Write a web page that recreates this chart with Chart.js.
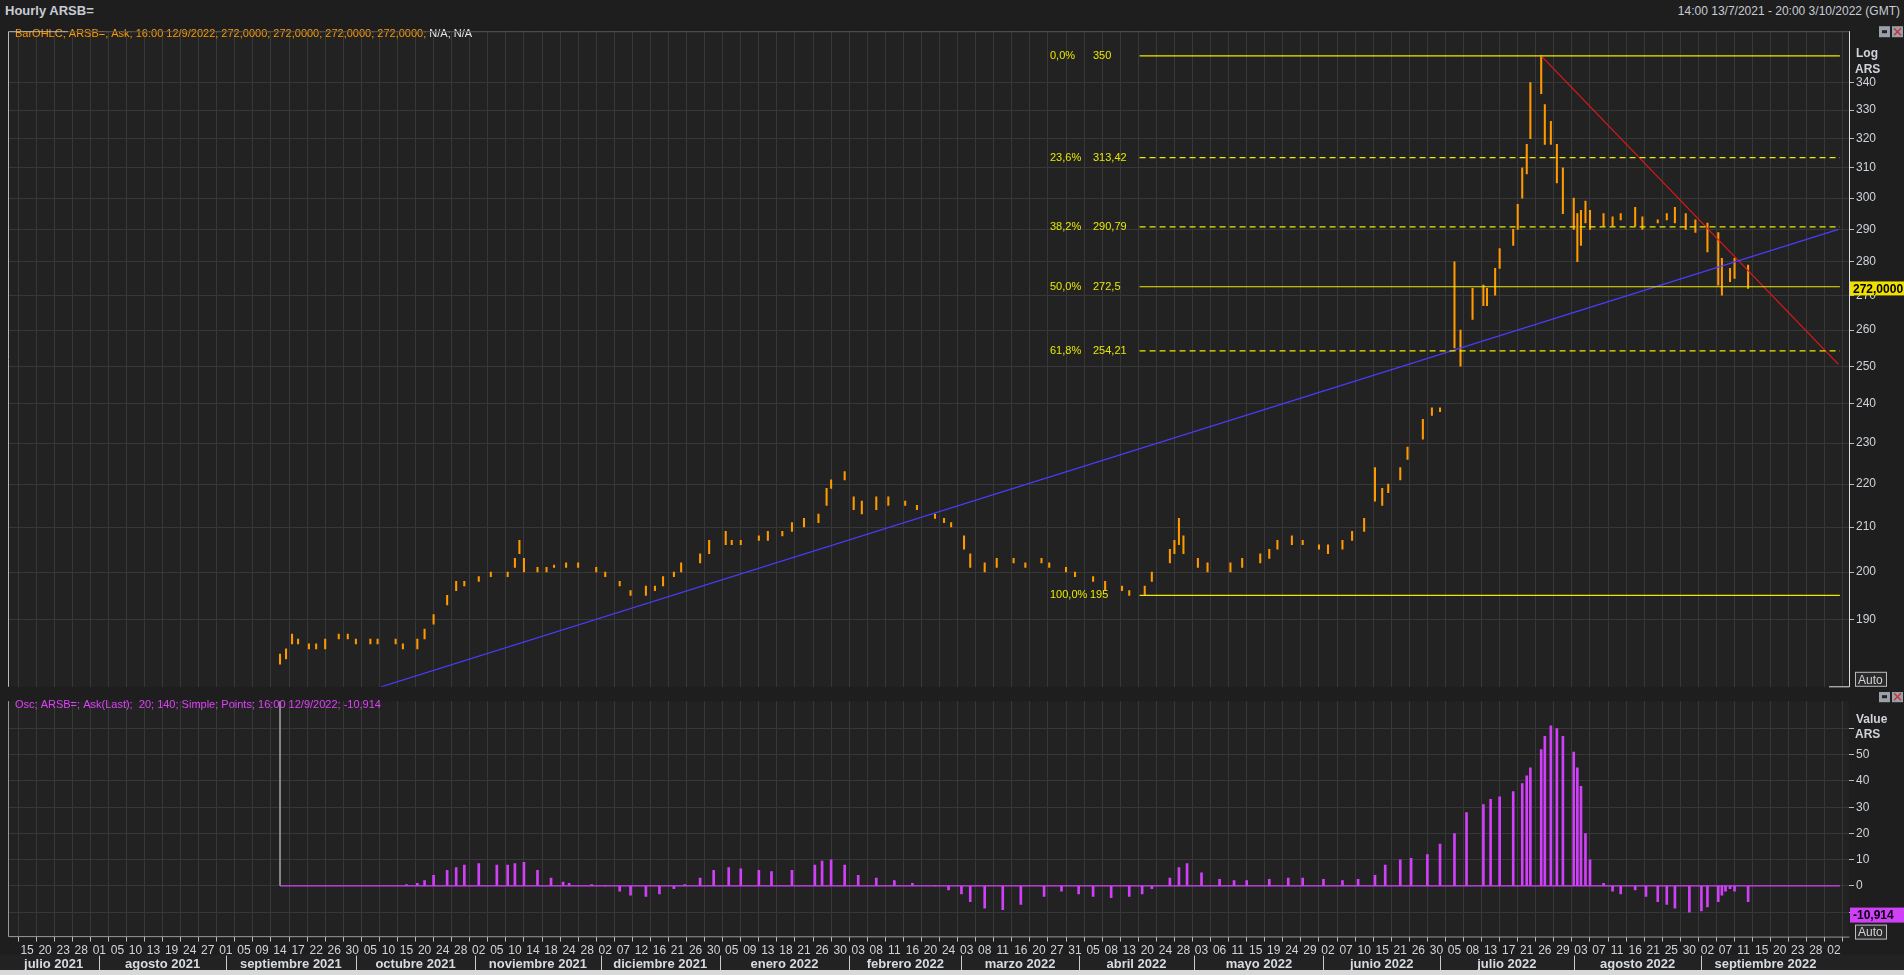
<!DOCTYPE html>
<html><head><meta charset="utf-8">
<script src="https://cdn.jsdelivr.net/npm/chart.js@4.4.0/dist/chart.umd.min.js"></script>
<style>
html,body{margin:0;padding:0;background:#1e1e1e;width:1904px;height:975px;overflow:hidden;font-family:"Liberation Sans",Arial,sans-serif;}
#c1{position:absolute;left:0;top:22px;}
#c2{position:absolute;left:0;top:692px;}
.t{position:absolute;color:#c8ccd4;font-size:13px;}
#strip{position:absolute;left:0;top:970px;width:1904px;height:5px;background:#d8d8d8;}
</style></head><body>
<div class="t" style="left:5px;top:3px;font-weight:bold;">Hourly ARSB=</div>
<div class="t" style="right:4px;top:4px;font-size:12px;">14:00 13/7/2021 - 20:00 3/10/2022 (GMT)</div>
<canvas id="c1" width="1904" height="674"></canvas>
<canvas id="c2" width="1904" height="283"></canvas>
<div id="strip"></div>
<script>
// ---------- data ----------
const priceDates = ["2021-09-14","2021-09-15","2021-09-16","2021-09-17","2021-09-20","2021-09-22","2021-09-24","2021-09-27","2021-09-29","2021-10-01","2021-10-05","2021-10-07","2021-10-12","2021-10-14","2021-10-18","2021-10-20","2021-10-22","2021-10-25","2021-10-27","2021-10-29","2021-11-02","2021-11-04","2021-11-08","2021-11-10","2021-11-11","2021-11-12","2021-11-15","2021-11-17","2021-11-19","2021-11-23","2021-11-26","2021-11-30","2021-12-02","2021-12-06","2021-12-09","2021-12-13","2021-12-15","2021-12-17","2021-12-20","2021-12-22","2021-12-27","2021-12-29","2022-01-03","2022-01-05","2022-01-07","2022-01-11","2022-01-13","2022-01-17","2022-01-19","2022-01-21","2022-01-25","2022-01-27","2022-01-28","2022-01-31","2022-02-02","2022-02-04","2022-02-08","2022-02-10","2022-02-14","2022-02-17","2022-02-21","2022-02-23","2022-02-25","2022-03-02","2022-03-04","2022-03-08","2022-03-10","2022-03-14","2022-03-17","2022-03-21","2022-03-24","2022-03-29","2022-03-31","2022-04-05","2022-04-07","2022-04-11","2022-04-13","2022-04-19","2022-04-21","2022-04-25","2022-04-26","2022-04-27","2022-04-28","2022-05-02","2022-05-04","2022-05-09","2022-05-12","2022-05-16","2022-05-18","2022-05-20","2022-05-24","2022-05-27","2022-05-31","2022-06-02","2022-06-06","2022-06-08","2022-06-10","2022-06-13","2022-06-15","2022-06-17","2022-06-21","2022-06-23","2022-06-27","2022-06-29","2022-07-01","2022-07-05","2022-07-06","2022-07-08","2022-07-11","2022-07-12","2022-07-14","2022-07-15","2022-07-18","2022-07-19","2022-07-20","2022-07-21","2022-07-22","2022-07-25","2022-07-26","2022-07-27","2022-07-28","2022-07-29","2022-08-01","2022-08-02","2022-08-03","2022-08-04","2022-08-05","2022-08-08","2022-08-10","2022-08-12","2022-08-16","2022-08-18","2022-08-22","2022-08-24","2022-08-26","2022-08-29","2022-08-31","2022-09-02","2022-09-05","2022-09-06","2022-09-08","2022-09-09","2022-09-12"];
const priceLow  = [181,182,185,185,184,184,184,186,186,185,185,185,185,184,184,186,189,193,196,197,198,199,199,201,204,200,200,200,201,201,201,200,199,197,195,195,196,197,199,200,202,204,206,206,206,207,207,208,209,210,211,215,219,221,214,213,214,215,215,214,212,211,210,205,201,200,201,202,201,202,201,200,199,198,196,196,195,195,198,202,204,206,204,201,200,200,201,202,203,205,206,206,205,204,205,207,209,216,215,218,221,226,231,237,238,255,250,263,267,267,270,278,285,290,300,308,320,336,318,318,305,295,290,280,285,292,290,291,291,293,291,290,292,293,292,290,289,283,273,270,274,275,272];
const priceHigh = [183,184,187,186,185,185,186,187,187,186,186,186,186,185,186,188,191,195,198,198,199,200,200,203,207,203,201,201,201.5,202,202,201,200,198,196,197,197,199,200,202,204,207,209,207,207,208,209,209,211,212,213,219,221,223,217,216,217,217,216,215,213,212,211,208,204,202,203,203,202,203,202,201,200,199,198,197,196,197,200,205,207,212,208,203,202,202,203,204,205,207,208,207,206,206,207,209,212,224,219,220,224,229,236,239,239,280,260,272,273,272,278,284,290,298,310,318,340,350,332,326,318,310,300,295,296,299,296,295,294,295,297,294,293,295,297,295,293,292,289,281,278,281,279,276];

const oscDates = ["2021-10-15","2021-10-18","2021-10-20","2021-10-22","2021-10-25","2021-10-27","2021-10-29","2021-11-02","2021-11-05","2021-11-08","2021-11-10","2021-11-12","2021-11-15","2021-11-18","2021-11-22","2021-11-24","2021-11-29","2021-12-02","2021-12-06","2021-12-09","2021-12-13","2021-12-16","2021-12-20","2021-12-23","2021-12-27","2021-12-30","2022-01-04","2022-01-07","2022-01-11","2022-01-14","2022-01-19","2022-01-24","2022-01-26","2022-01-28","2022-01-31","2022-02-03","2022-02-08","2022-02-11","2022-02-16","2022-02-21","2022-02-24","2022-03-01","2022-03-04","2022-03-08","2022-03-11","2022-03-16","2022-03-22","2022-03-28","2022-04-01","2022-04-05","2022-04-08","2022-04-13","2022-04-18","2022-04-21","2022-04-25","2022-04-27","2022-04-29","2022-05-03","2022-05-06","2022-05-10","2022-05-13","2022-05-18","2022-05-23","2022-05-27","2022-06-01","2022-06-06","2022-06-09","2022-06-13","2022-06-16","2022-06-21","2022-06-24","2022-06-28","2022-07-01","2022-07-05","2022-07-07","2022-07-11","2022-07-13","2022-07-15","2022-07-18","2022-07-20","2022-07-21","2022-07-22","2022-07-25","2022-07-26","2022-07-27","2022-07-28","2022-07-29","2022-08-01","2022-08-02","2022-08-03","2022-08-04","2022-08-05","2022-08-08","2022-08-10","2022-08-12","2022-08-16","2022-08-19","2022-08-22","2022-08-24","2022-08-26","2022-08-30","2022-09-01","2022-09-02","2022-09-05","2022-09-06","2022-09-07","2022-09-08","2022-09-09","2022-09-12"];
const oscValues = [0.5,1,2,4,6,7,8,8.5,8,8,8.5,9,6,3,1.5,1,0.5,0,-2,-3.5,-4,-3,-1,0.5,3,6,7,6.5,6,5.5,6,8,9.5,10,8,4,3,2,1,0,-1.5,-3,-6,-8.5,-9,-7,-4,-2,-3,-4,-4.5,-4,-3,-1,3,7,8.5,5,2.5,2,2,2.5,3,3,2.5,2,2.5,4,8,10,10.5,12,16,20,28,31,33,34,36,39,42,45,52,57,61,60,57,51,45,38,20,10,1,-2,-3,-1.5,-4,-6,-7,-8.5,-10,-9.5,-8,-6,-3.5,-2,-1,-2,-6,-9,-13,-13.5,-13,-11];

const tickMonths = ["2021-07","2021-08","2021-09","2021-10","2021-11","2021-12","2022-01","2022-02","2022-03","2022-04","2022-05","2022-06","2022-07","2022-08","2022-09","2022-10"];
const tickDays = [[15,20,23,28],[1,5,10,13,19,24,27],[1,5,9,14,17,22,26,30],[5,10,15,20,24,28],[2,5,10,14,18,24,28],[2,7,12,16,21,26,30],[5,9,13,18,21,26,30],[3,8,11,16,20,24],[3,8,11,16,20,27,31],[5,8,13,20,24,28],[3,6,11,15,19,24,29],[2,7,10,15,21,26,30],[5,8,13,17,21,26,29],[3,7,11,16,21,25,30],[2,7,11,15,20,23,28],[2]];
const monthNames = ["enero","febrero","marzo","abril","mayo","junio","julio","agosto","septiembre","octubre","noviembre","diciembre"];
const priceTicks = [190,200,210,220,230,240,250,260,270,280,290,300,310,320,330,340];
const oscTicks = [0,10,20,30,40,50];
const fibPct = ["0,0%","23,6%","38,2%","50,0%","61,8%","100,0%"];
const fibVal = [350,313.42,290.79,272.5,254.21,195];
const fibLabel = ["350","313,42","290,79","272,5","254,21","195"];
const fibDashed = [false,true,true,false,true,false];
const fibStart = "2022-04-17";
const blueLine = [["2021-10-08",176.6],["2022-10-03",290]];
const redLine = [["2022-07-25",350],["2022-10-03",250.5]];
const spikeDate = "2021-09-14";

// ---------- time axis (compressed, one unit per date tick) ----------
const day = s => Date.parse(s+"T00:00:00Z")/864e5;
const tickDayNums = [];
tickMonths.forEach((m,i)=>tickDays[i].forEach(d=>tickDayNums.push(day(m+"-"+String(d).padStart(2,"0")))));
function X(s){
  const v = typeof s==='number'?s:day(s), t=tickDayNums, n=t.length;
  if(v<=t[0]) return (v-t[0])/(t[1]-t[0]);
  if(v>=t[n-1]) return n-1+(v-t[n-1])/(t[n-1]-t[n-2]);
  let i=0; while(t[i+1]<v) i++;
  return i+(v-t[i])/(t[i+1]-t[i]);
}
const xMin=-0.55, xMax=tickDayNums.length-1+0.33;
const tickLbl = tickDayNums.map(v=>String(new Date(v*864e5).getUTCDate()).padStart(2,"0"));
const FONT = '"Liberation Sans", Arial, sans-serif';
const GRID = '#383838', TXT = '#d0d4da';
Chart.defaults.font.family = FONT;
Chart.defaults.animation = false;

function xScale(showLabels){
  const s = {type:'linear',min:xMin,max:xMax,
    afterBuildTicks:a=>{a.ticks=tickDayNums.map((v,i)=>({value:i}));},
    grid:{color:GRID,tickLength:showLabels?5:0,tickColor:'#bbb',drawTicks:showLabels},
    border:{display:false},
    ticks:{display:showLabels,autoSkip:false,maxRotation:0,color:TXT,font:{size:12},padding:2,callback:(v,i)=>tickLbl[i]}};
  if(!showLabels) s.afterFit = a=>{a.height=0;};
  return s;
}
function yFit(a){a.width=55;}

const bgPlugin = {id:'bg',beforeDraw(c){const {ctx,chartArea:a}=c;ctx.save();ctx.fillStyle='#222222';ctx.fillRect(a.left,a.top,a.right-a.left,a.bottom-a.top);ctx.restore();}};

function box(ctx,x,y,w,h,fill,stroke,text,col,bold){
  ctx.save();ctx.fillStyle=fill;ctx.fillRect(x,y,w,h);
  if(stroke){ctx.strokeStyle=stroke;ctx.lineWidth=1;ctx.strokeRect(x+.5,y+.5,w-1,h-1);}
  ctx.fillStyle=col;ctx.font=(bold?'bold ':'')+'12px '+FONT;ctx.textBaseline='middle';ctx.fillText(text,x+3,y+h/2+1);ctx.restore();
}
function icons(ctx,x,y){
  ctx.save();ctx.fillStyle='#9aa0aa';ctx.fillRect(x,y,11,11);ctx.fillRect(x+13,y,11,11);
  ctx.fillStyle='#222';ctx.fillRect(x+3,y+4,5,3);
  ctx.strokeStyle='#c33';ctx.lineWidth=1.5;ctx.beginPath();ctx.moveTo(x+15,y+2);ctx.lineTo(x+22,y+9);ctx.moveTo(x+22,y+2);ctx.lineTo(x+15,y+9);ctx.stroke();ctx.restore();
}

// ---------- price chart ----------
const priceBars = priceDates.map((d,i)=>({x:X(d),y:[priceLow[i],priceHigh[i]]}));
const fibSets = fibVal.map((v,i)=>({type:'line',data:[{x:X(fibStart),y:v},{x:xMax,y:v}],borderColor:'#f0e800',borderWidth:1.2,borderDash:fibDashed[i]?[6,4]:[],pointRadius:0,order:1}));
const overlay = {id:'ov1',afterDraw(c){
  const {ctx,chartArea:a,scales:{x,y}}=c;
  ctx.save();
  ctx.font='11px '+FONT;ctx.textBaseline='middle';ctx.fillStyle='#e8e800';
  fibVal.forEach((v,i)=>{const yy=y.getPixelForValue(v);ctx.fillText(fibPct[i],1050,yy);ctx.fillText(fibLabel[i],i==5?1090:1093,yy);});
  ctx.font='11px '+FONT;ctx.fillStyle='#ff9900';
  const s1='BarOHLC; ARSB=; Ask; 16:00 12/9/2022; 272,0000; 272,0000; 272,0000; 272,0000; ';
  ctx.fillText(s1,15,12);const w=ctx.measureText(s1).width;ctx.fillStyle='#e8e8e8';ctx.fillText('N/A; N/A',15+w,12);
  ctx.strokeStyle='#bbb';ctx.lineWidth=1;ctx.beginPath();ctx.moveTo(a.left+.5,a.bottom);ctx.lineTo(a.left+.5,a.top+.5);ctx.lineTo(a.left+60,a.top+.5);ctx.stroke();
  ctx.strokeStyle='#555';ctx.beginPath();ctx.moveTo(a.left+60,a.top+.5);ctx.lineTo(a.right,a.top+.5);ctx.stroke();
  ctx.strokeStyle='#ddd';ctx.beginPath();ctx.moveTo(a.right+.5,a.top);ctx.lineTo(a.right+.5,a.bottom);ctx.lineTo(a.right-20,a.bottom);ctx.stroke();
  ctx.fillStyle=TXT;ctx.font='bold 12px '+FONT;ctx.fillText('Log',1856,a.top+22);ctx.fillText('ARS',1855,a.top+38);
  icons(ctx,1879,a.top-5);
  const yy=y.getPixelForValue(272);box(ctx,1850,yy-7,54,14,'#f0e000',null,'272,0000','#000',true);
  box(ctx,1855,a.bottom-15,32,15,'#2a2a2a','#bbb','Auto',TXT,false);
  ctx.restore();}};
new Chart(document.getElementById('c1'),{
  data:{datasets:[
    {type:'bar',data:priceBars,backgroundColor:'#ff9900',barThickness:1.4,grouped:false,order:3},
    ...fibSets,
    {type:'line',data:blueLine.map(p=>({x:X(p[0]),y:p[1]})),borderColor:'#4a3cff',borderWidth:1.2,pointRadius:0,order:2},
    {type:'line',data:redLine.map(p=>({x:X(p[0]),y:p[1]})),borderColor:'#e01818',borderWidth:1.2,pointRadius:0,order:2}
  ]},
  options:{responsive:false,devicePixelRatio:1,layout:{padding:{left:8,top:1,bottom:0,right:0}},
    plugins:{legend:{display:false},tooltip:{enabled:false}},
    scales:{x:xScale(false),
      y:{type:'logarithmic',position:'right',min:176.6,max:359.5,afterFit:yFit,
        afterBuildTicks:a=>{a.ticks=priceTicks.map(v=>({value:v}));},
        grid:{color:GRID,tickLength:5,tickColor:'#bbb'},border:{display:false},
        ticks:{color:TXT,font:{size:12},padding:2,callback:v=>String(v)}}}},
  plugins:[bgPlugin,overlay]});

// ---------- oscillator chart ----------
const oscBars = oscDates.map((d,i)=>({x:X(d),y:[0,oscValues[i]]}));
const ov2 = {id:'ov2',afterDraw(c){
  const {ctx,chartArea:a,scales:{x,y}}=c;
  ctx.save();ctx.font='11px '+FONT;ctx.textBaseline='middle';ctx.fillStyle='#e040fb';
  ctx.fillText('Osc; ARSB=; Ask(Last);  20; 140; Simple; Points; 16:00 12/9/2022; -10,914',15,a.top+4);
  ctx.fillStyle=TXT;ctx.font='bold 12px '+FONT;ctx.fillText('Value',1856,a.top+18);ctx.fillText('ARS',1855,a.top+33);
  icons(ctx,1879,a.top-10);
  const yy=y.getPixelForValue(-10.914);box(ctx,1850,yy-7,54,15,'#d040f8',null,'-10,914','#000',true);
  box(ctx,1855,yy+10,32,15,'#2a2a2a','#bbb','Auto',TXT,false);
  ctx.strokeStyle='#999';ctx.lineWidth=1;ctx.beginPath();ctx.moveTo(a.left+.5,a.top);ctx.lineTo(a.left+.5,a.bottom);ctx.lineTo(a.right+.5,a.bottom+.5);ctx.stroke();
  const top=a.bottom+19;ctx.fillStyle='#222';ctx.fillRect(0,top-1,1904,19);
  ctx.font='bold 13px '+FONT;ctx.textAlign='center';
  for(let i=0;i<tickMonths.length;i++){
    const [yr,mo]=tickMonths[i].split('-').map(Number);
    const s=X(tickMonths[i]+'-01'), e=X((mo==12?(yr+1)+'-01':yr+'-'+String(mo+1).padStart(2,'0'))+'-01');
    const xs=Math.max(a.left,x.getPixelForValue(s)), xe=Math.min(a.right,x.getPixelForValue(e));
    if(xe-xs<40) continue;
    if(s>xMin){ctx.strokeStyle='#ccc';ctx.beginPath();ctx.moveTo(Math.round(xs)+.5,top);ctx.lineTo(Math.round(xs)+.5,top+17);ctx.stroke();}
    ctx.fillStyle='#d8dce2';ctx.fillText(monthNames[mo-1]+' '+yr,(xs+xe)/2,top+9);
  }
  ctx.restore();}};
new Chart(document.getElementById('c2'),{
  data:{datasets:[
    {type:'bar',data:oscBars,backgroundColor:'#d040f8',barThickness:2,grouped:false},
    {type:'bar',data:[{x:X(spikeDate),y:[0,71]}],backgroundColor:'#9a9a9a',barThickness:1,grouped:false},
    {type:'line',data:[{x:X(spikeDate),y:0},{x:xMax,y:0}],borderColor:'#d040f8',borderWidth:1.2,pointRadius:0}
  ]},
  options:{responsive:false,devicePixelRatio:1,layout:{padding:{left:8,top:1,bottom:15,right:0}},
    plugins:{legend:{display:false},tooltip:{enabled:false}},
    scales:{x:xScale(true),
      y:{type:'linear',position:'right',min:-19.3,max:70.4,afterFit:yFit,
        afterBuildTicks:a=>{a.ticks=[-10,...oscTicks,60].map(v=>({value:v}));},
        grid:{color:GRID,tickLength:5,tickColor:'#bbb'},border:{display:false},
        ticks:{color:TXT,font:{size:12},padding:2,callback:v=>oscTicks.includes(v)?String(v):''}}}},
  plugins:[bgPlugin,ov2]});
</script>
</body></html>
